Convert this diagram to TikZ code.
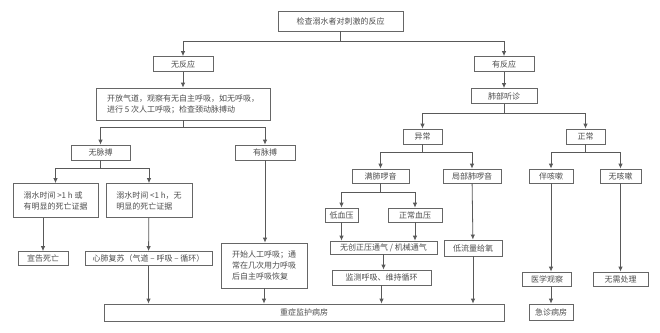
\documentclass[tikz,border=0pt]{standalone}
\usepackage{fontspec}
\setmainfont{Noto Sans CJK SC}
\usetikzlibrary{arrows.meta}

\begin{document}
\begin{tikzpicture}[x=1pt, y=-1pt,
    caja/.style={draw=black!60, line width=0.8pt, text=black!70, inner sep=1pt,
        font=\fontsize{8}{11}\selectfont},
    flecha/.style={draw=black!65, line width=0.8pt, -{Latex[length=5pt,width=4.5pt]}},
    linea/.style={draw=black!65, line width=0.8pt}]
    \useasboundingbox (0,0) rectangle (660,332);

    % Nivel superior
    \node[caja, minimum width=125pt, minimum height=20pt] (inicio) at (340.5,21) {检查溺水者对刺激的反应};
    \node[caja, minimum width=60pt, minimum height=15pt] (norx) at (183,64) {无反应};
    \node[caja, minimum width=60pt, minimum height=15pt] (sirx) at (504,64) {有反应};

    % Rama sin respuesta
    \node[caja, minimum width=174pt, minimum height=32pt, align=left] (abrir) at (183,104)
        {开放气道，观察有无自主呼吸，如无呼吸，\\进行 5 次人工呼吸；检查颈动脉搏动};
    \node[caja, minimum width=59pt, minimum height=15pt] (nopulso) at (100.5,152.5) {无脉搏};
    \node[caja, minimum width=60pt, minimum height=15pt] (pulso) at (265,152.5) {有脉搏};
    \node[caja, minimum width=85pt, minimum height=34pt, align=left] (largo) at (55.5,200.5)
        {溺水时间 >1 h 或\\有明显的死亡证据};
    \node[caja, minimum width=86pt, minimum height=34pt, align=left] (corto) at (149,200.5)
        {溺水时间 <1 h，无\\明显的死亡证据};
    \node[caja, minimum width=50pt, minimum height=14pt] (muerte) at (43,258.5) {宣告死亡};
    \node[caja, minimum width=127pt, minimum height=14pt] (rcp) at (148.5,258.5) {心肺复苏（气道 – 呼吸 – 循环）};
    \node[caja, minimum width=86pt, minimum height=45pt, align=left] (respira) at (264,265.5)
        {开始人工呼吸；通\\常在几次用力呼吸\\后自主呼吸恢复};

    % Rama con respuesta
    \node[caja, minimum width=66pt, minimum height=15pt] (pulmon) at (504,96) {肺部听诊};
    \node[caja, minimum width=39pt, minimum height=15pt] (anormal) at (422.5,136.5) {异常};
    \node[caja, minimum width=39pt, minimum height=15pt] (normal) at (585.5,136.5) {正常};
    \node[caja, minimum width=57pt, minimum height=14pt] (lleno) at (380.5,176) {满肺啰音};
    \node[caja, minimum width=58pt, minimum height=14pt] (local) at (472,176) {局部肺啰音};
    \node[caja, minimum width=44pt, minimum height=14pt] (tos) at (551,176) {伴咳嗽};
    \node[caja, minimum width=41pt, minimum height=14pt] (notos) at (620.5,176) {无咳嗽};
    \node[caja, minimum width=33pt, minimum height=14pt] (hipo) at (341.5,215) {低血压};
    \node[caja, minimum width=54pt, minimum height=14pt] (normo) at (415,215) {正常血压};
    \node[caja, minimum width=107pt, minimum height=13pt] (vent) at (383.5,247.5) {无创正压通气 / 机械通气};
    \node[caja, minimum width=99pt, minimum height=15pt] (monitor) at (381.5,277.5) {监测呼吸、维持循环};
    \node[caja, minimum width=58pt, minimum height=16pt] (oxigeno) at (473,248) {低流量给氧};
    \node[caja, minimum width=49pt, minimum height=14pt] (obs) at (547,279) {医学观察};
    \node[caja, minimum width=55pt, minimum height=14pt] (nada) at (620.5,279) {无需处理};

    % Destinos finales
    \node[caja, minimum width=400pt, minimum height=17pt] (uci) at (304,312.5) {重症监护病房};
    \node[caja, minimum width=44pt, minimum height=16pt] (urg) at (551,312) {急诊病房};

    % Conectores
    \draw[linea] (inicio.south) -- ++(0,10) coordinate (c0);
    \draw[flecha] (c0) -| (norx.north);
    \draw[flecha] (c0) -| (sirx.north);
    \draw[flecha] (norx) -- (abrir);
    \draw[linea] (abrir.south) -- ++(0,7) coordinate (c1);
    \draw[flecha] (c1) -| (nopulso.north);
    \draw[flecha] (c1) -| (pulso.north);
    \draw[linea] (nopulso.south) -- ++(0,8) coordinate (c2);
    \draw[flecha] (c2) -| (largo.north);
    \draw[flecha] (c2) -| (corto.north);
    \draw[flecha] (muerte.north |- largo.south) -- (muerte.north);
    \draw[flecha] (corto) -- (rcp);
    \draw[flecha] (rcp.south) -- (rcp.south |- uci.north);
    \draw[flecha] (pulso.south) -- (pulso.south |- respira.north);
    \draw[flecha] (respira.south) -- (respira.south |- uci.north);

    \draw[flecha] (sirx) -- (pulmon);
    \draw[linea] (pulmon.south) -- ++(0,9) coordinate (c3);
    \draw[flecha] (c3) -| (anormal.north);
    \draw[flecha] (c3) -| (normal.north);
    \draw[linea] (anormal.south) -- ++(0,8) coordinate (c4);
    \draw[flecha] (c4) -| (lleno.north);
    \draw[flecha] (c4) -| (local.north);
    \draw[linea] (normal.south) -- ++(0,8) coordinate (c5);
    \draw[flecha] (c5) -| (tos.north);
    \draw[flecha] (c5) -| (notos.north);
    \draw[linea] (lleno.south) -- ++(0,9) coordinate (c6);
    \draw[flecha] (c6) -| (hipo.north);
    \draw[flecha] (c6) -| (normo.north);
    \draw[flecha] (hipo.south) -- (hipo.south |- vent.north);
    \draw[flecha] (normo.south) -- (normo.south |- vent.north);
    \draw[flecha] (vent.south) -- (vent.south |- monitor.north);
    \draw[flecha] (monitor.south) -- (monitor.south |- uci.north);
    \draw[flecha] (local) -- (oxigeno);
    \draw[flecha] (oxigeno.south) -- (oxigeno.south |- uci.north);
    \draw[flecha] (tos.south) -- (tos.south |- obs.north);
    \draw[flecha] (notos) -- (nada);
    \draw[flecha] (urg.north |- obs.south) -- (urg.north);
\end{tikzpicture}
\end{document}
